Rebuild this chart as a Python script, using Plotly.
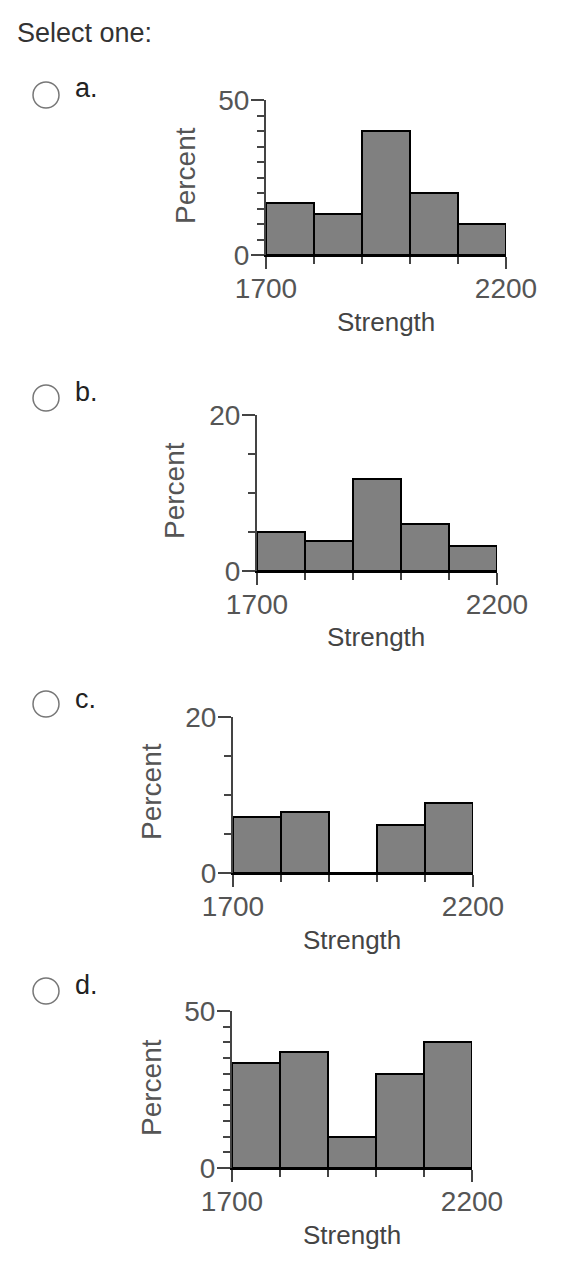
import plotly.graph_objects as go

# histogram data (percent per 100-unit bin)
bin_edges = [1700, 1800, 1900, 2000, 2100, 2200]
pct_a = [16.7, 13.3, 40, 20, 10]
pct_b = [5, 3.8, 11.8, 6, 3.2]
pct_c = [7.2, 7.8, 0, 6.2, 9.0]
pct_d = [33.3, 36.8, 10, 30, 40]
y_max = {"a": 50, "b": 20, "c": 20, "d": 50}
option_labels = ["a.", "b.", "c.", "d."]

# page has an 8px body margin, so the figure is drawn 8px in from the corner
PAD = 8
W, H = 578 - 2 * PAD, 1278 - 2 * PAD
FONT = "Liberation Sans, Arial, sans-serif"

centers = [(bin_edges[i] + bin_edges[i + 1]) / 2 for i in range(len(bin_edges) - 1)]

# panel boxes in page pixels: x left, x right, y top, y bottom
panels = {
    "a": (266, 506, 100, 255),
    "b": (257, 497, 415, 571),
    "c": (233, 473, 717, 873),
    "d": (232, 472, 1011, 1168),
}
data = {"a": pct_a, "b": pct_b, "c": pct_c, "d": pct_d}

def px(x):
    return (x - PAD) / W

def py(y):
    return 1 - (y - PAD) / H

fig = go.Figure()
annotations = []
shapes = []

for i, key in enumerate(["a", "b", "c", "d"]):
    n = "" if i == 0 else str(i + 1)
    x0, x1, y0, y1 = panels[key]
    fig.add_trace(go.Bar(
        x=centers, y=data[key], width=100,
        marker=dict(color="#808080", line=dict(color="black", width=2)),
        xaxis="x" + n, yaxis="y" + n, showlegend=False, hoverinfo="skip",
    ))
    top = y_max[key]
    fig.update_layout(**{
        "xaxis" + n: dict(
            domain=[px(x0), px(x1)], anchor="y" + n, range=[1700, 2200],
            tickvals=[1700, 2200], ticks="outside", ticklen=12, tickwidth=1.5,
            tickcolor="#444", showline=True, linecolor="black", linewidth=2,
            showgrid=False, zeroline=False, automargin=False,
            ticklabelstandoff=-5,
            tickfont=dict(family=FONT, size=28, color="#555"),
            minor=dict(dtick=100, tick0=1700, ticks="outside", ticklen=7,
                       tickwidth=1.5, tickcolor="#444", showgrid=False),
            fixedrange=True,
        ),
        "yaxis" + n: dict(
            domain=[py(y1), py(y0)], anchor="x" + n, range=[0, top],
            tickvals=[0, top], ticks="outside", ticklen=13, tickwidth=1.5,
            tickcolor="#444", showline=True, linecolor="#444", linewidth=2,
            showgrid=False, zeroline=False, automargin=False,
            ticklabelstandoff=-4,
            tickfont=dict(family=FONT, size=28, color="#555"),
            minor=dict(dtick=5, tick0=0, ticks="outside", ticklen=7,
                       tickwidth=1.5, tickcolor="#444", showgrid=False),
            fixedrange=True,
        ),
    })

# axis titles
strength_pos = [(386, 322), (376, 637), (352, 940), (352, 1235)]
percent_pos = [(185, 176), (174, 491), (151, 792), (151, 1088)]
for (sx, sy), (qx, qy) in zip(strength_pos, percent_pos):
    annotations.append(dict(
        text="Strength", x=px(sx), y=py(sy), xref="paper", yref="paper",
        xanchor="center", yanchor="middle", showarrow=False,
        font=dict(family=FONT, size=26, color="#444"),
    ))
    annotations.append(dict(
        text="Percent", x=px(qx), y=py(qy), xref="paper", yref="paper",
        xanchor="center", yanchor="middle", showarrow=False, textangle=-90,
        font=dict(family=FONT, size=28, color="#555"),
    ))

# question header and radio options
annotations.append(dict(
    text="Select one:", x=px(15), y=py(33), xref="paper", yref="paper",
    xanchor="left", yanchor="middle", showarrow=False,
    font=dict(family=FONT, size=27, color="#333"),
))
radio_y = [95, 398, 704, 991]
label_y = [88, 392, 699, 985]
for lab, ry, ly in zip(option_labels, radio_y, label_y):
    r = 13
    shapes.append(dict(
        type="circle", xref="paper", yref="paper",
        x0=px(46 - r), x1=px(46 + r), y0=py(ry + r), y1=py(ry - r),
        line=dict(color="#777", width=1.5), fillcolor="white",
    ))
    annotations.append(dict(
        text=lab, x=px(73), y=py(ly), xref="paper", yref="paper",
        xanchor="left", yanchor="middle", showarrow=False,
        font=dict(family=FONT, size=27, color="#222"),
    ))

fig.update_layout(
    width=W, height=H, margin=dict(l=0, r=0, t=0, b=0),
    paper_bgcolor="white", plot_bgcolor="white",
    bargap=0, annotations=annotations, shapes=shapes,
)
fig.write_html("out.html")
